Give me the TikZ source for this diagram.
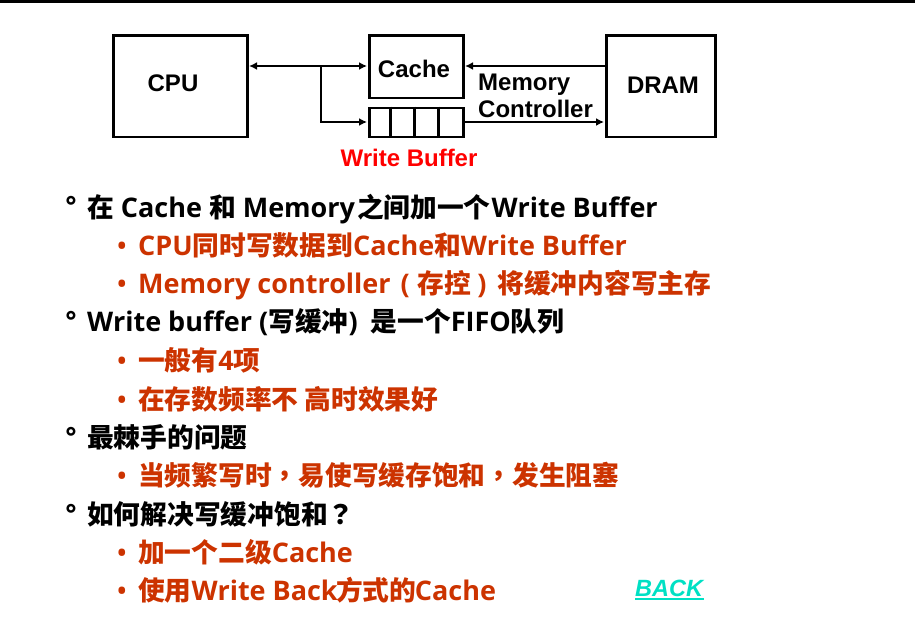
\documentclass[tikz,border=0pt]{standalone}
\usepackage{fontspec}
\usetikzlibrary{arrows.meta}
\setmainfont{Open Sans}
\newfontfamily\armd{Liberation Sans}
\newfontfamily\cjk[Scale=0.99]{Noto Sans CJK SC}
\newfontfamily\cjkp[Scale=0.99]{Noto Sans CJK TC}
\newcommand{\zh}[1]{{\cjk #1}}
\newcommand{\zp}[1]{{\cjkp #1}}
\definecolor{itemred}{RGB}{204,51,0}
\definecolor{backcyan}{RGB}{0,224,196}
\begin{document}
\begin{tikzpicture}[x=1pt,y=-1pt,
  box/.style={draw,line width=2.8pt,inner sep=0pt,anchor=north west},
  lbl/.style={font=\armd\fontsize{24}{24}\selectfont\bfseries,inner sep=0pt},
  conn/.style={line width=2.5pt,-{Latex[length=8pt,width=8pt]}},
  conn2/.style={line width=2.5pt,{Latex[length=8pt,width=8pt]}-{Latex[length=8pt,width=8pt]}},
  top/.style={anchor=base west,inner sep=0pt,font=\fontsize{27}{27}\selectfont\bfseries},
  sub/.style={top,text=itemred},
  dot/.style={anchor=base,inner sep=0pt,font=\fontsize{26.5}{26.5}\selectfont\bfseries},
  rdot/.style={anchor=base,inner sep=0pt,text=itemred,font=\fontsize{24}{24}\selectfont\bfseries}]
\useasboundingbox (0,0) rectangle (915,626);
\fill (0,0) rectangle (915,3);
% boxes
\node[box,minimum width=134pt,minimum height=101pt] (cpu) at (112,34.5) {};
\node[box,minimum width=94pt,minimum height=62pt] (cache) at (368,34.5) {};
\node[box,minimum width=94pt,minimum height=29pt] (buf) at (368,106.5) {};
\node[box,minimum width=109pt,minimum height=101pt] (dram) at (605,34.5) {};
\draw[line width=2.5pt] (390.5,106.5) -- (390.5,135.5) (414.5,106.5) -- (414.5,135.5) (438.5,106.5) -- (438.5,135.5);
% labels
\node[lbl] (cpulbl) at (173,83) {CPU};
\node[lbl] (cachelbl) at (414,69) {Cache};
\node[lbl] (dramlbl) at (663,85) {DRAM};
\node[lbl,anchor=base west] (mem) at (478,90) {Memory};
\node[lbl,anchor=base west] (ctl) at (478,117) {Controller};
\node[lbl,text=red] (wb) at (409,158) {Write Buffer};
% connectors
\coordinate (cpuport) at (249,66);
\coordinate (cacheport) at (367,66);
\coordinate (tee) at (321,66);
\coordinate (bufin) at (367,122);
\coordinate (bufout) at (465,122);
\coordinate (dramin) at (604,122);
\coordinate (cacheback) at (465,66);
\coordinate (dramout) at (605,66);
\draw[conn2] (cpuport) -- (cacheport);
\draw[conn] (tee) |- (bufin);
\draw[conn] (dramout) -- (cacheback);
\draw[conn] (bufout) -- (dramin);
% list
\node[dot] (b1) at (71,215) {°};
\node[top] (l1) at (87,217) {\zh{在} Cache \zh{和} Memory\hspace{2pt}\zh{之间加一个}\hspace{1pt}Write Buffer};
\node[rdot] (b2) at (122,254) {•};
\node[sub] (l2) at (138,255) {CPU\zh{同时写数据到}Cache\zh{和}Write Buffer};
\node[rdot] (b3) at (122,292) {•};
\node[sub] (l3) at (138,293) {Memory controller\hspace{10pt}(\hspace{8pt}\zh{存控}\hspace{6pt})\hspace{11pt}\zh{将缓冲内容写主存}};
\node[dot] (b4) at (71,330) {°};
\node[top] (l4) at (87,331) {Write buffer (\zh{写缓冲}) \hspace{6pt}\zh{是一个}FIFO\zh{队列}};
\node[rdot] (b5) at (122,369) {•};
\node[sub] (l5) at (138,370) {\zh{一般有}4\zh{项}};
\node[rdot] (b6) at (122,408) {•};
\node[sub] (l6) at (138,409) {\zh{在存数频率不 高时效果好}};
\node[dot] (b7) at (71,446) {°};
\node[top] (l7) at (87,447) {\zh{最棘手的问题}};
\node[rdot] (b8) at (122,484) {•};
\node[sub] (l8) at (138,485) {\zh{当频繁写时}\zp{，}\zh{易使写缓存饱和}\zp{，}\zh{发生阻塞}};
\node[dot] (b9) at (71,523) {°};
\node[top] (l9) at (87,524) {\zh{如何解决写缓冲饱和}\zp{？}};
\node[rdot] (b10) at (122,561) {•};
\node[sub] (l10) at (138,562) {\zh{加一个二级}Cache};
\node[rdot] (b11) at (122,599) {•};
\node[sub] (l11) at (138,600) {\zh{使用}Write Back\hspace{-1.5pt}\zh{方式的}\hspace{-1.5pt}Cache};
\node[anchor=base west,inner sep=0pt,text=backcyan,font=\armd\fontsize{23.5}{23.5}\selectfont\bfseries\itshape] (back) at (635,596) {BACK};
\draw[backcyan,line width=1.5pt] (back.base west)++(0,3) -- ++(69,0);
\end{tikzpicture}
\end{document}
